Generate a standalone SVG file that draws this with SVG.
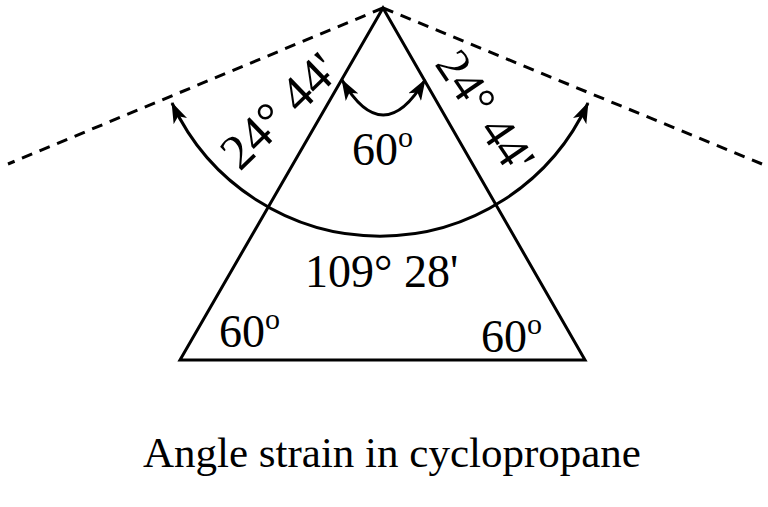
<svg xmlns="http://www.w3.org/2000/svg" width="768" height="507" viewBox="0 0 768 507">
<style>
.ln{fill:none;stroke:#000;stroke-width:3;stroke-linejoin:miter}
.dash{fill:none;stroke:#000;stroke-width:3;stroke-dasharray:11 8}
.t{font-family:"Liberation Serif","Times New Roman",serif;fill:#000}
</style>
<defs>
<marker id="ah" viewBox="0 0 20 14" refX="19" refY="7" markerWidth="21" markerHeight="15" markerUnits="userSpaceOnUse" orient="auto-start-reverse">
<path d="M0,0 L20,7 L0,14 L5,7 Z" fill="#000"/>
</marker>
</defs>
<rect width="768" height="507" fill="#fff"/>
<g id="dashed-lines">
<path class="dash" d="M383,8 L8,164"/>
<path class="dash" d="M383,8 L762,164"/>
</g>
<g id="triangle">
<path class="ln" d="M383,8 L180,360 L585,360 Z"/>
</g>
<g id="connectors">
<path class="ln" d="M342,80 Q383,150 425,80" marker-start="url(#ah)" marker-end="url(#ah)"/>
<path class="ln" d="M172,103 A229,229 0 0 0 588,103" marker-start="url(#ah)" marker-end="url(#ah)"/>
</g>
<g id="labels">
<text class="t" font-size="46" x="352" y="165">60<tspan font-size="30" dy="-18">o</tspan></text>
<text class="t" font-size="46" x="305" y="287">109° 28'</text>
<text class="t" font-size="46" x="219" y="347">60<tspan font-size="30" dy="-18">o</tspan></text>
<text class="t" font-size="46" x="481" y="352">60<tspan font-size="30" dy="-18">o</tspan></text>
<text class="t" font-size="50" transform="translate(240,172) rotate(-44)">24° 44'</text>
<text class="t" font-size="48" transform="translate(434,64) rotate(56)">24° 44'</text>
<text class="t" font-size="43" x="143" y="467">Angle strain in cyclopropane</text>
</g>
</svg>
